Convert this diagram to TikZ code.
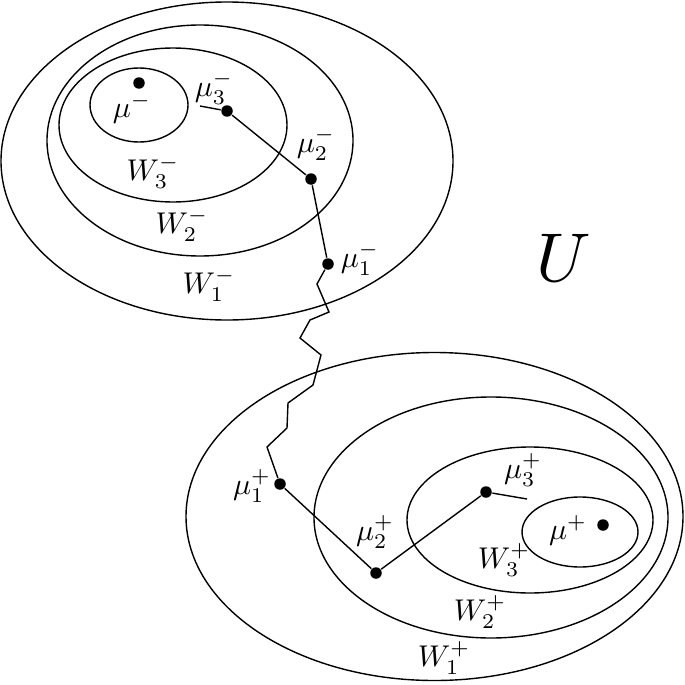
\documentclass[tikz,border=0pt]{standalone}
\begin{document}
\begin{tikzpicture}[x=1pt,y=-1pt,line width=1.4pt,
  dot/.style={circle,fill=black,inner sep=0pt,minimum size=11.5pt},
  lab/.style={scale=3.0,inner sep=0pt},
  ell/.style={draw=black,line width=1.4pt}]
\useasboundingbox (0,0) rectangle (685,685);
% minus side
\draw[ell] (227,161) ellipse [x radius=226, y radius=159];
\draw[ell] (200,140.5) ellipse [x radius=153, y radius=115.5];
\draw[ell] (173,125) ellipse [x radius=114, y radius=77];
\draw[ell] (139,105) ellipse [x radius=49, y radius=37];
% plus side
\draw[ell] (434.5,516.5) ellipse [x radius=248.5, y radius=164];
\draw[ell] (491,517.5) ellipse [x radius=177, y radius=120.5];
\draw[ell] (530,520) ellipse [x radius=123, y radius=73];
\draw[ell] (580,532) ellipse [x radius=58, y radius=35];
% dots
\node[dot] (mm) at (139,83) {};
\node[dot] (m3m) at (227,111) {};
\node[dot] (m2m) at (311,179) {};
\node[dot] (m1m) at (328,264) {};
\node[dot] (m1p) at (280,484) {};
\node[dot] (m2p) at (376,573) {};
\node[dot] (m3p) at (486,492) {};
\node[dot] (mp) at (603,525) {};
\coordinate (s3m) at (200,106);
\coordinate (s3p) at (527,499);
% paths
\draw (s3m) -- (m3m) -- (m2m) -- (m1m);
\draw (m1m) -- (317,284) -- (329,312) -- (310,320) -- (300,338) -- (321,355)
  -- (313,385) -- (288,403) -- (287,428) -- (267,447) -- (m1p);
\draw (m1p) -- (m2p) -- (m3p) -- (s3p);
% labels
\node[lab] (lmm) at (132,108) {$\mu^-$};
\node[lab] (lm3m) at (214,88) {$\mu_3^-$};
\node[lab] (lm2m) at (316,144) {$\mu_2^-$};
\node[lab] (lm1m) at (360,259) {$\mu_1^-$};
\node[lab] (lW3m) at (153,172) {$W_3^-$};
\node[lab] (lW2m) at (182,225) {$W_2^-$};
\node[lab] (lW1m) at (209,285) {$W_1^-$};
\node[lab] (lmp) at (568,530) {$\mu^+$};
\node[lab] (lm1p) at (252,486) {$\mu_1^+$};
\node[lab] (lm2p) at (375,532) {$\mu_2^+$};
\node[lab] (lm3p) at (523,470) {$\mu_3^+$};
\node[lab] (lW3p) at (504,560) {$W_3^+$};
\node[lab] (lW2p) at (480,612) {$W_2^+$};
\node[lab] (lW1p) at (444,658) {$W_1^+$};
\node[scale=6.9,inner sep=0pt] (U) at (564,258) {$U$};
\end{tikzpicture}
\end{document}
